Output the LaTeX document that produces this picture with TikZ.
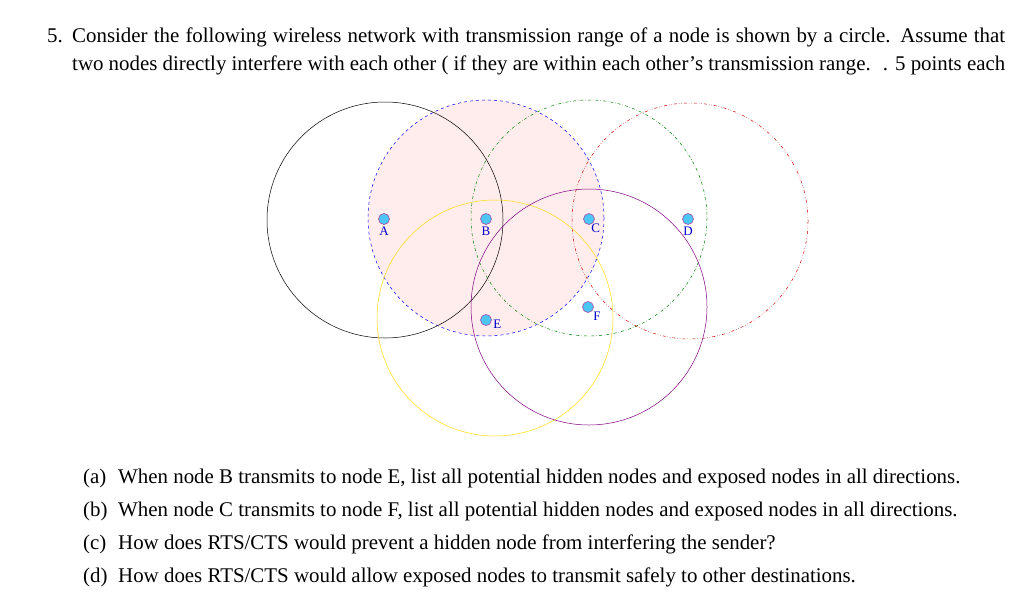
\documentclass[tikz,border=0pt]{standalone}
\usepackage{fontspec}
\setmainfont{Liberation Serif}
\usetikzlibrary{positioning}
\begin{document}
\begin{tikzpicture}[x=1pt,y=-1pt,
  dot/.style={circle,draw=violet!70,fill=cyan!70,inner sep=0pt,minimum size=11pt,line width=0.6pt},
  lab/.style={font=\fontsize{13}{14}\selectfont,text=blue!80!black,inner sep=1pt},
  txt/.style={font=\fontsize{20.9}{28}\selectfont,anchor=base west,inner sep=0pt},
  rng/.style={line width=0.5pt}]
\useasboundingbox (0,0) rectangle (1024,610);
\fill[red!7] (486,218) circle (118);
\draw[rng,blue,dashed] (486,218) circle (118);
\draw[rng,black] (385,220) circle (118);
\draw[rng,green!50!black,dash dot] (589,218) circle (118);
\draw[rng,red!80!black,dash dot dot] (690,221) circle (118);
\draw[rng,yellow!80!orange] (495,318) circle (118);
\draw[rng,violet] (589,307) circle (118);
\node[dot] (A) at (384,219) {}; \node[lab,below=1pt of A] (lA) {A};
\node[dot] (B) at (486,219) {}; \node[lab,below=1pt of B] (lB) {B};
\node[dot] (C) at (589,219) {}; \node[lab,below right=0pt and -3pt of C] (lC) {C};
\node[dot] (D) at (688,219) {}; \node[lab,below=1pt of D] (lD) {D};
\node[dot] (E) at (486,320) {}; \node[lab,below right=-5pt and 2pt of E] (lE) {E};
\node[dot] (F) at (588,307) {}; \node[lab,below right=0pt and 0pt of F] (lF) {F};
\node[txt] (n5) at (47,43) {5.};
\node[txt,text width=933pt,align=justify,anchor=north west] (q) at (72,28) {Consider the following wireless network with transmission range of a node is shown by a circle. Assume that\linebreak two nodes directly interfere with each other ( if they are within each other’s transmission range. \ . 5 points each};
\node[txt] (a) at (83,483) {(a)}; \node[txt] (ta) at (118,483) {When node B transmits to node E, list all potential hidden nodes and exposed nodes in all directions.};
\node[txt] (b) at (83,516) {(b)}; \node[txt] (tb) at (118,516) {When node C transmits to node F, list all potential hidden nodes and exposed nodes in all directions.};
\node[txt] (c) at (83,549) {(c)}; \node[txt] (tc) at (118,549) {How does RTS/CTS would prevent a hidden node from interfering the sender?};
\node[txt] (d) at (83,582) {(d)}; \node[txt] (td) at (118,582) {How does RTS/CTS would allow exposed nodes to transmit safely to other destinations.};
\end{tikzpicture}
\end{document}
